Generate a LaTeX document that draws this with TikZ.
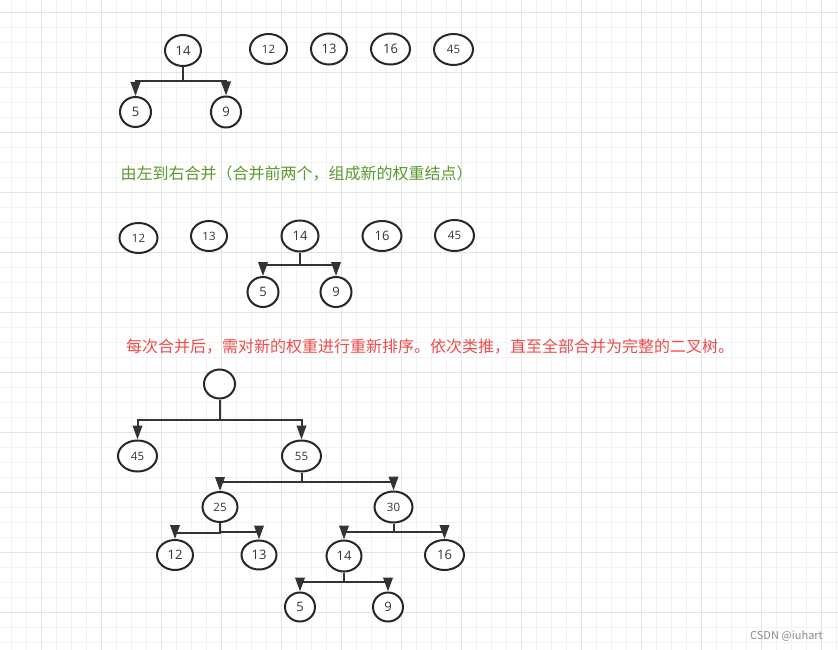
\documentclass[tikz,border=0pt]{standalone}
\usepackage{fontspec}
\setmainfont{Noto Sans CJK SC}
\newfontfamily\numfont{Open Sans}
\usetikzlibrary{shapes.geometric,arrows.meta}
\definecolor{gridminor}{HTML}{F2F2F2}
\definecolor{gridmajor}{HTML}{E4E4E4}
\definecolor{ink}{HTML}{23282C}
\definecolor{txt}{HTML}{333333}
\definecolor{greentxt}{HTML}{5B9A2E}
\definecolor{redtxt}{HTML}{F04B4B}
\tikzset{
  x=1pt,y=-1pt,
  nd/.style n args={2}{ellipse,draw=ink,line width=2pt,fill=white,inner sep=0pt,
    minimum width=#1pt,minimum height=#2pt,text=txt,font=\numfont\fontsize{13}{14}\selectfont},
  sm/.style={font=\numfont\fontsize{11.5}{13}\selectfont},
  edge/.style={draw=txt,line width=2pt,-{Triangle[length=14pt,width=9.5pt,fill=txt]}},
  note/.style={inner sep=0pt,anchor=west,font=\fontsize{16}{18}\selectfont},
}
\begin{document}
\begin{tikzpicture}
\useasboundingbox (0,0) rectangle (838,650);
\fill[white] (0,0) rectangle (838,650);
% grid
\foreach \g in {11,26,...,836} {\draw[gridminor,line width=0.8pt] (\g,0) -- (\g,650);}
\foreach \g in {12,27,...,650} {\draw[gridminor,line width=0.8pt] (0,\g) -- (838,\g);}
\foreach \g in {41,101,...,836} {\draw[gridmajor,line width=0.8pt] (\g,0) -- (\g,650);}
\foreach \g in {12,72,...,650} {\draw[gridmajor,line width=0.8pt] (0,\g) -- (838,\g);}
% first row
\node[nd={36}{31}] (a14) at (183,50.5) {14};
\node[nd={37}{30},sm] (a12) at (268.5,49) {12};
\node[nd={36}{31}] (a13) at (329,49) {13};
\node[nd={39}{31}] (a16) at (390.5,49) {16};
\node[nd={39}{31},sm] (a45) at (453.5,49.5) {45};
\node[nd={31}{30}] (a5) at (135.5,112) {5};
\node[nd={30}{31}] (a9) at (226,112) {9};
\draw[edge] (a14.south) -- ++(0,14) -| (a5.north);
\draw[edge] (a14.south) -- ++(0,14) -| (a9.north);
\node[note,text=greentxt] (t1) at (120.5,174) {由左到右合并（合并前两个，组成新的权重结点）};
% second row
\node[nd={38}{30},sm] (b12) at (138.5,238) {12};
\node[nd={36}{30},sm] (b13) at (209,236) {13};
\node[nd={37}{31}] (b14) at (300,236) {14};
\node[nd={39}{30}] (b16) at (382,236) {16};
\node[nd={39}{31},sm] (b45) at (454.5,235.5) {45};
\node[nd={31}{30}] (b5) at (263,292) {5};
\node[nd={31}{30}] (b9) at (336,292) {9};
\draw[edge] (b14.south) -- ++(0,12.5) -| (b5.north);
\draw[edge] (b14.south) -- ++(0,12.5) -| (b9.north);
\node[note,text=redtxt] (t2) at (126,347) {每次合并后，需对新的权重进行重新排序。依次类推，直至全部合并为完整的二叉树。};
% full tree
\node[nd={31}{29}] (r) at (219.5,384) {};
\node[nd={39}{31},sm] (c45) at (137.5,456) {45};
\node[nd={39}{31},sm] (c55) at (301.5,456) {55};
\node[nd={35}{30},sm] (c25) at (220,507) {25};
\node[nd={38}{31},sm] (c30) at (393.5,507) {30};
\node[nd={36}{30}] (c12) at (175,555) {12};
\node[nd={35}{29}] (c13) at (259,555) {13};
\node[nd={35}{31}] (c14) at (344,556) {14};
\node[nd={39}{30}] (c16) at (444.5,555) {16};
\node[nd={30}{29}] (c5) at (300,607) {5};
\node[nd={30}{29}] (c9) at (388,607) {9};
\draw[edge] (r.south) -- ++(0,20.5) -| (c45.north);
\draw[edge] (r.south) -- ++(0,20.5) -| (c55.north);
\draw[edge] (c55.south) -- ++(0,9.5) -| (c25.north);
\draw[edge] (c55.south) -- ++(0,9.5) -| (c30.north);
\draw[edge] (c25.south) -- ++(0,10) -| (c12.north);
\draw[edge] (c25.south) -- ++(0,9) -| (c13.north);
\draw[edge] (c30.south) -- ++(0,8.5) -| (c14.north);
\draw[edge] (c30.south) -- ++(0,8.5) -| (c16.north);
\draw[edge] (c14.south) -- ++(0,9.5) -| (c5.north);
\draw[edge] (c14.south) -- ++(0,9.5) -| (c9.north);
% watermark
\node[inner sep=0pt,anchor=west,text=black!45,font=\fontsize{11}{12}\selectfont] (wm) at (750,636) {CSDN @iuhart};
\end{tikzpicture}
\end{document}
